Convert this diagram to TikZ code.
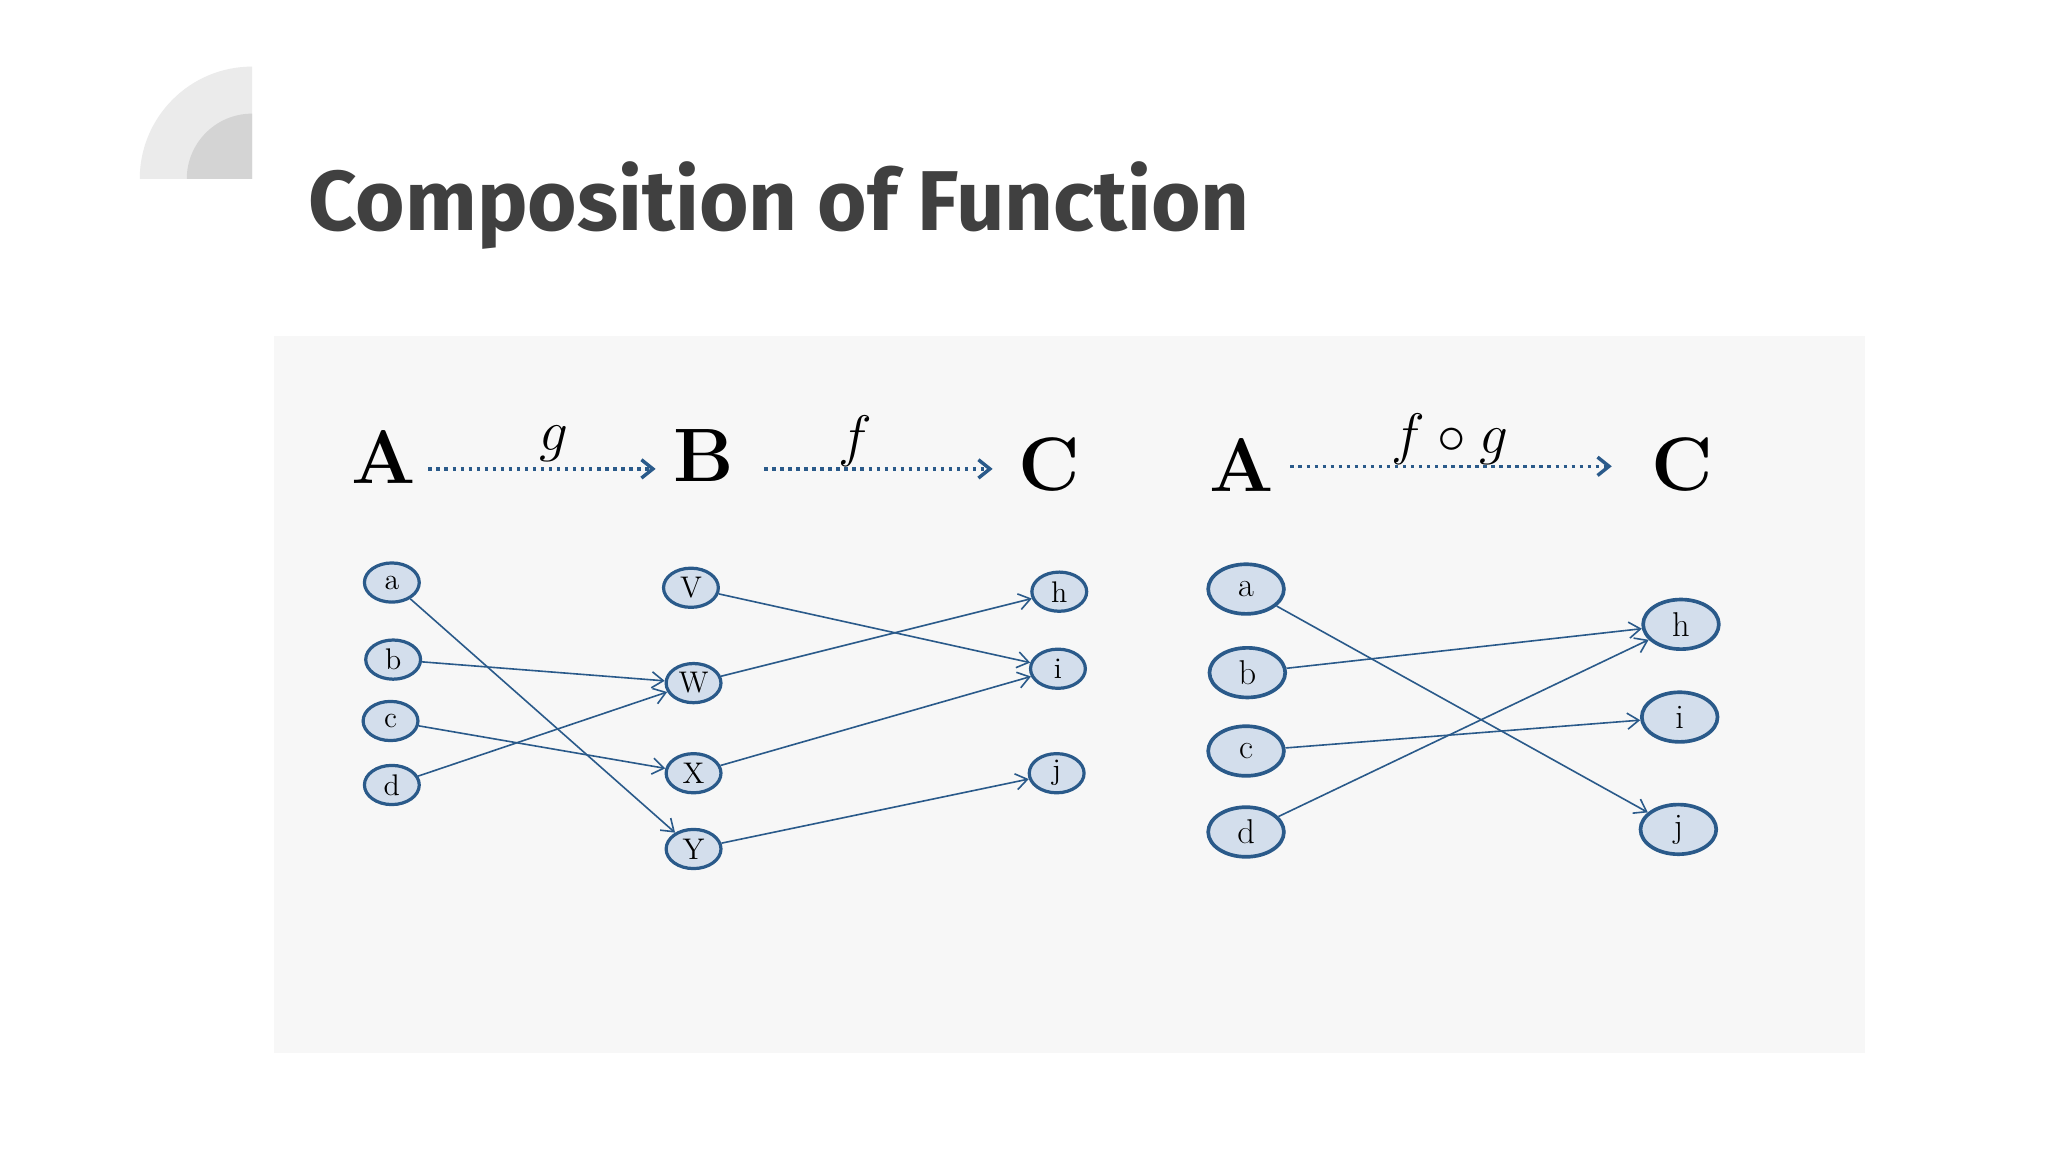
\documentclass[tikz,border=0pt]{standalone}
\usepackage{fontspec}
\newfontfamily\titlefont{Fira Sans}
\usetikzlibrary{shapes.geometric,arrows.meta}
\definecolor{nblue}{HTML}{2A5A8A}
\definecolor{nfill}{HTML}{D3DEEC}
\definecolor{tgray}{HTML}{404040}
\tikzset{
 sm/.style={ellipse,draw=nblue,fill=nfill,line width=1.4pt,minimum width=0.84cm,minimum height=0.6cm,inner sep=0pt,font=\fontsize{13}{13}\selectfont},
 bg/.style={ellipse,draw=nblue,fill=nfill,line width=1.6pt,minimum width=1.16cm,minimum height=0.76cm,inner sep=0pt,font=\fontsize{15}{15}\selectfont},
 edge/.style={draw=nblue,line width=0.7pt,-{Straight Barb[length=5pt,width=7pt]}},
 dots/.style={draw=nblue,line width=1.5pt,dotted,-{Straight Barb[length=5pt,width=8pt]}},
 head/.style={font=\fontsize{33}{33}\selectfont\bfseries,inner sep=0pt},
 lab/.style={font=\fontsize{24}{24}\selectfont,inner sep=0pt}
}
\begin{document}
\begin{tikzpicture}[x=0.02cm,y=-0.02cm]
\useasboundingbox (0,0) rectangle (1568,882);
\fill[white] (0,0) rectangle (1568,882);
\fill[black!8] (193,137) -- (107,137) arc[start angle=180,end angle=270,radius=86] -- cycle;
\fill[black!17] (193,137) -- (143,137) arc[start angle=180,end angle=270,radius=50] -- cycle;
\node[anchor=west,text=tgray,inner sep=0pt,font=\titlefont\fontsize{37}{37}\selectfont\bfseries] (title) at (236,157) {Composition of Function};
\fill[black!3] (210,257) rectangle (1428,806);
% headings
\node[head] (A1) at (294,350) {A};
\node[head] (B1) at (539,349) {B};
\node[head] (C1) at (803,356) {C};
\node[head] (A2) at (951,356) {A};
\node[head] (C2) at (1288,356) {C};
\coordinate (g1) at (328,359); \coordinate (g2) at (502,359);
\coordinate (f1) at (585,359); \coordinate (f2) at (760,359);
\coordinate (h1) at (988,357); \coordinate (h2) at (1234,357);
\draw[dots] (g1) -- (g2);
\draw[dots] (f1) -- (f2);
\draw[dots] (h1) -- (h2);
\node[lab] (lg) at (424,340) {$g$};
\node[lab] (lf) at (655,338) {$f$};
\node[lab] (lfg) at (1110,336) {$f\circ g$};
% left nodes
\node[sm] (a) at (300,446) {a};
\node[sm] (b) at (301,505) {b};
\node[sm] (c) at (299,552) {c};
\node[sm] (d) at (300,601) {d};
\node[sm] (V) at (529,450) {V};
\node[sm] (W) at (531,523) {W};
\node[sm] (X) at (531,592) {X};
\node[sm] (Y) at (531,650) {Y};
\node[sm] (h) at (811,453) {h};
\node[sm] (i) at (810,512) {i};
\node[sm] (j) at (809,592) {j};
\draw[edge] (a) -- (Y);
\draw[edge] (b) -- (W);
\draw[edge] (c) -- (X);
\draw[edge] (d) -- (W);
\draw[edge] (V) -- (i);
\draw[edge] (W) -- (h);
\draw[edge] (X) -- (i);
\draw[edge] (Y) -- (j);
% right nodes
\node[bg] (ra) at (954,451) {a};
\node[bg] (rb) at (955,515) {b};
\node[bg] (rc) at (954,575) {c};
\node[bg] (rd) at (954,637) {d};
\node[bg] (rh) at (1287,478) {h};
\node[bg] (ri) at (1286,549) {i};
\node[bg] (rj) at (1285,635) {j};
\draw[edge] (ra) -- (rj);
\draw[edge] (rb) -- (rh);
\draw[edge] (rc) -- (ri);
\draw[edge] (rd) -- (rh);
\end{tikzpicture}
\end{document}
